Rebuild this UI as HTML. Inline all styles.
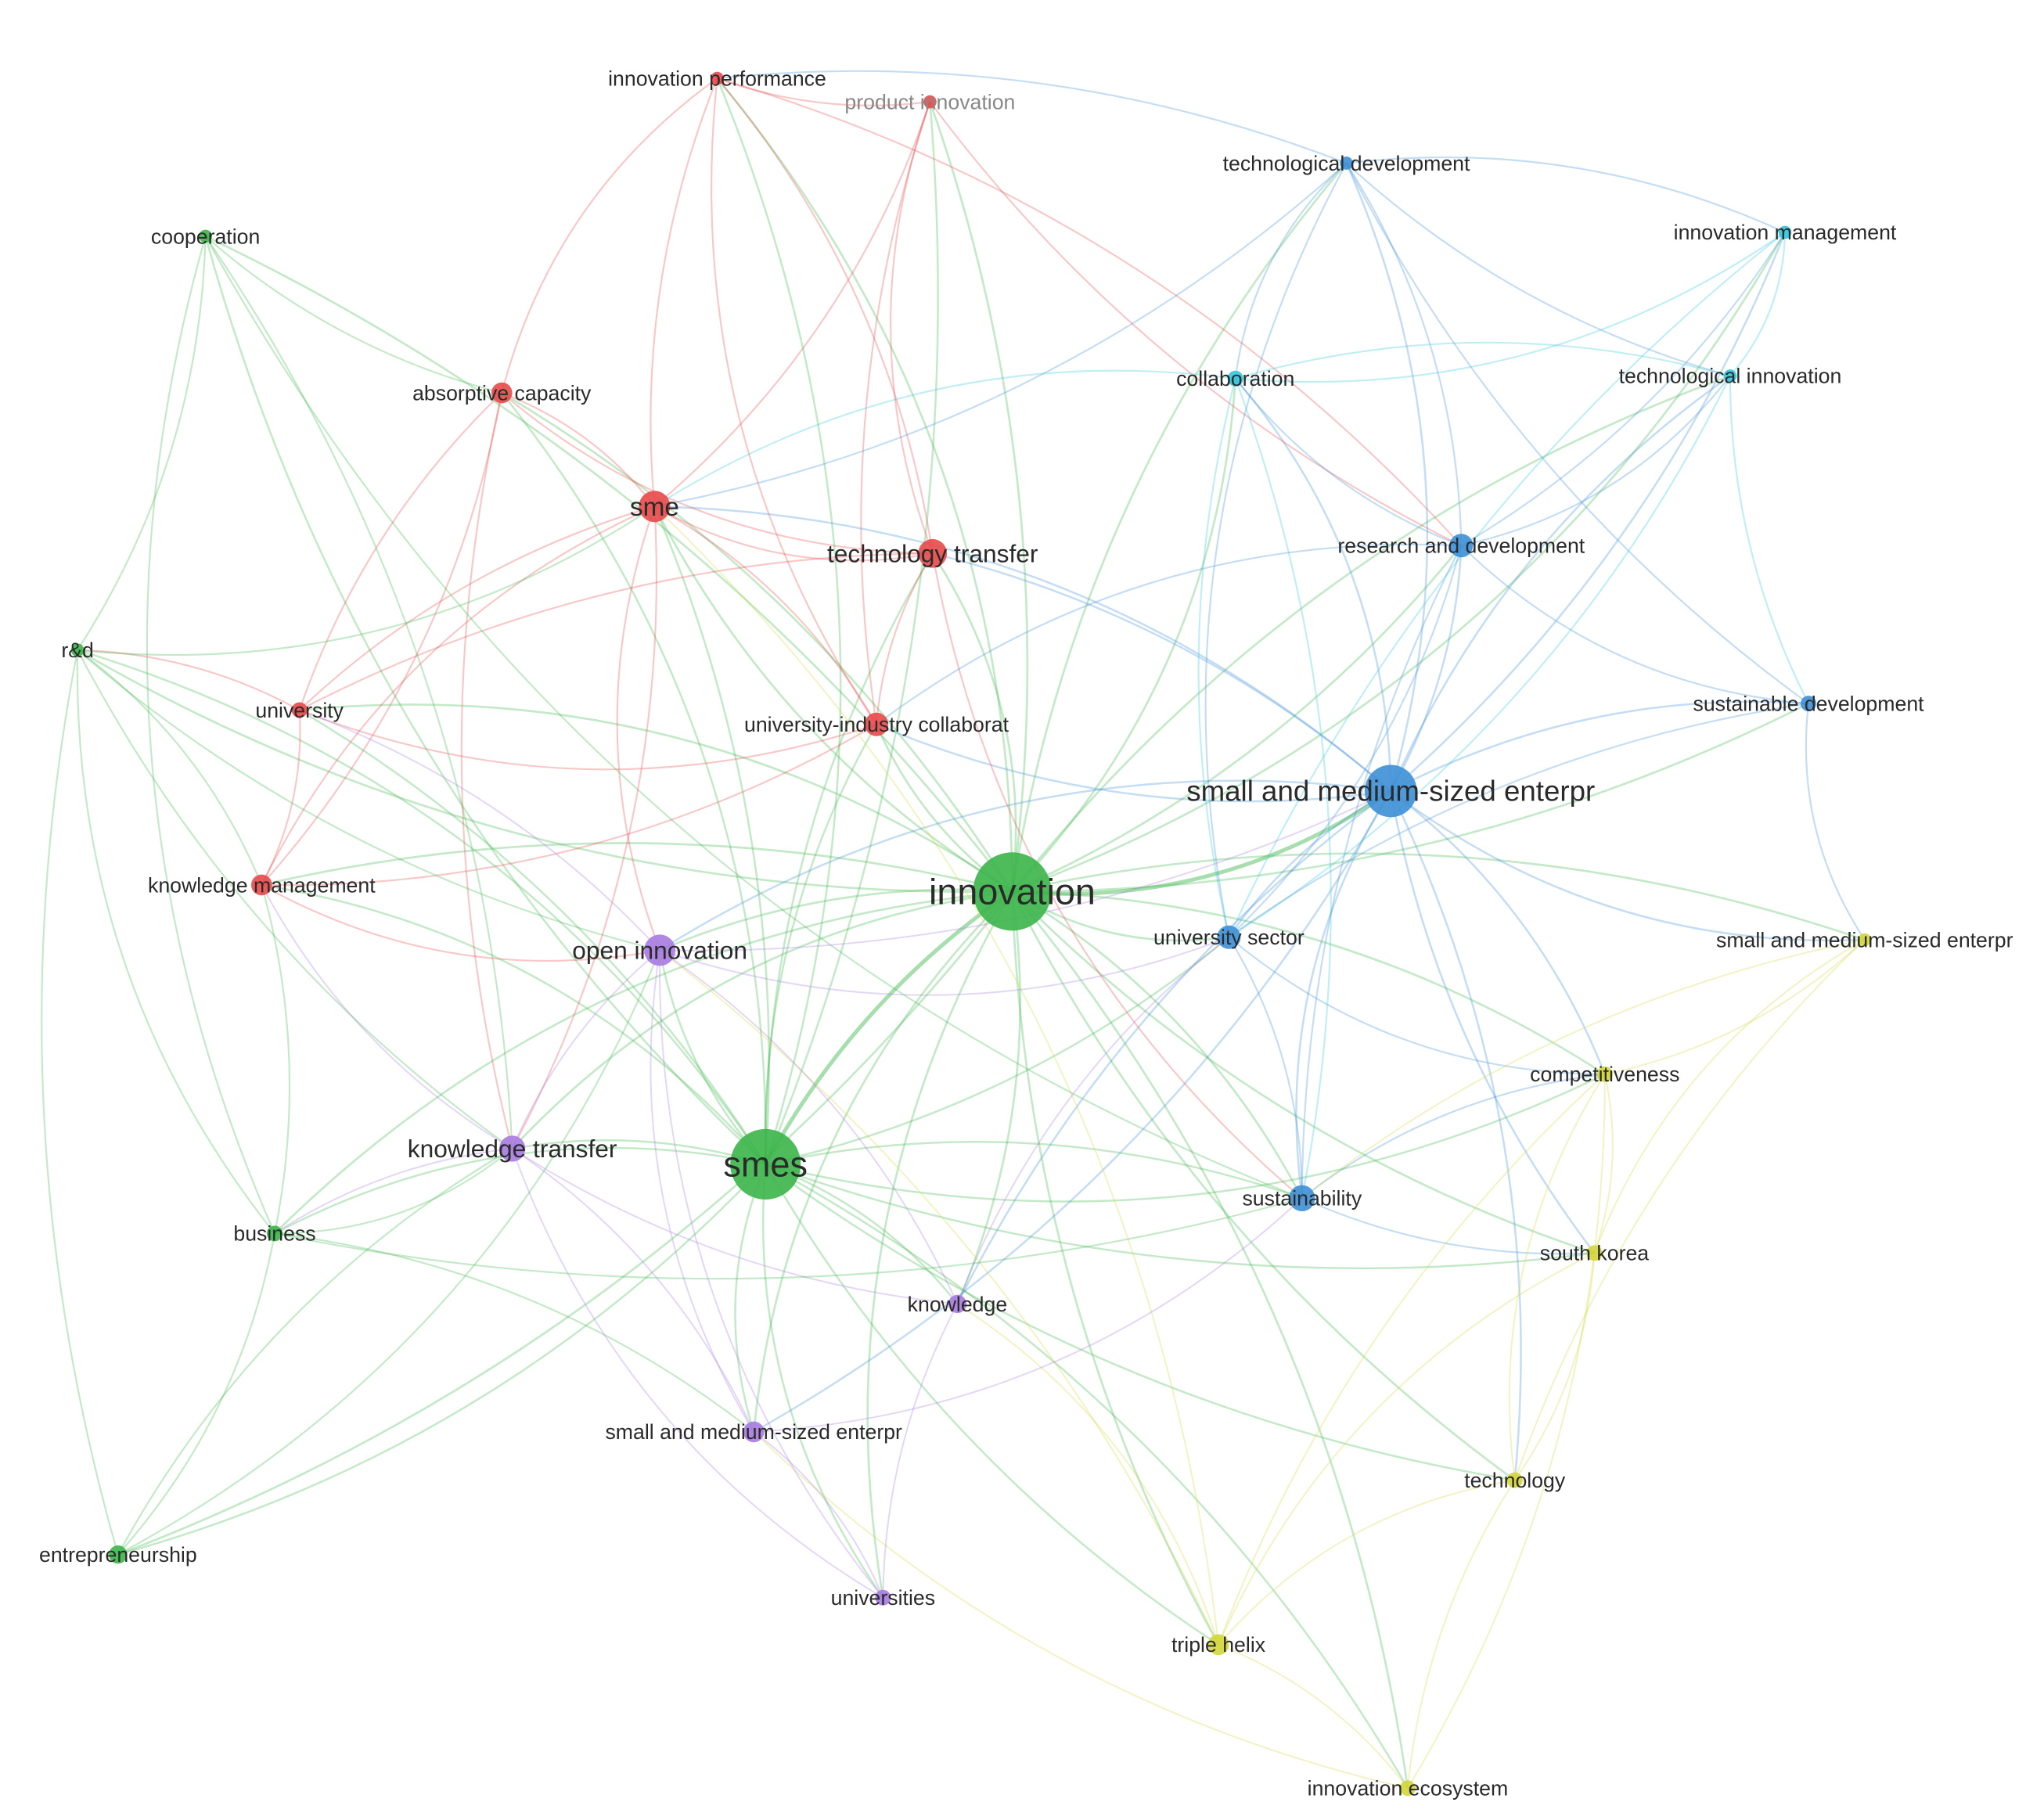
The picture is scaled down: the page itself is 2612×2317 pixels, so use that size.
<!DOCTYPE html>
<html><head><meta charset="utf-8">
<style>
html,body{margin:0;padding:0;background:#fff;}
svg{display:block;}
text{font-family:"Liberation Sans",sans-serif;fill:#2a2a2a;}
</style></head>
<body>
<svg id="s" width="2612" height="2317" viewBox="0 0 1565 1389" xmlns="http://www.w3.org/2000/svg">
<g id="edges" fill="none"></g>
<g id="nodes"></g>
<g id="labels" text-anchor="middle"></g>
</svg>
<script>
var C={r:"#e8494a",g:"#3cb54a",b:"#3d8fd6",c:"#2fc6de",y:"#d3d63a",p:"#a77be0"};
var N=[
["innovation performance",549,60,5,"r",16],//0
["product innovation",712,78,5,"r",16],//1
["technological development",1031,125,5,"b",16],//2
["innovation management",1367,178,5,"c",16],//3
["cooperation",157,181,5,"g",16],//4
["technological innovation",1325,288,5,"c",16],//5
["collaboration",946,290,6,"c",16],//6
["absorptive capacity",384,301,8,"r",16],//7
["sme",501,388,12,"r",20],//8
["technology transfer",714,424,11,"r",19],//9
["research and development",1119,418,9,"b",16],//10
["r&d",59,498,5,"g",16],//11
["university",229,544,6,"r",16],//12
["sustainable development",1385,539,6,"b",16],//13
["university-industry collaborat",671,555,9,"r",16],//14
["small and medium-sized enterpr",1065,606,20,"b",22],//15
["innovation",775,683,30,"g",28],//16
["knowledge management",200,678,8,"r",16],//17
["small and medium-sized enterpr",1428,720,5,"y",16],//18
["university sector",941,718,9,"b",16],//19
["open innovation",505,728,12,"p",19],//20
["competitiveness",1229,823,6,"y",16],//21
["knowledge transfer",392,880,10,"p",19],//22
["smes",586,892,27,"g",27],//23
["sustainability",997,918,10,"b",16],//24
["business",210,945,6,"g",16],//25
["south korea",1221,960,6,"y",16],//26
["knowledge",733,999,7,"p",16],//27
["small and medium-sized enterpr",577,1097,8,"p",16],//28
["technology",1160,1134,6,"y",16],//29
["entrepreneurship",90,1191,7,"g",16],//30
["universities",676,1224,6,"p",16],//31
["triple helix",933,1260,8,"y",16],//32
["innovation ecosystem",1078,1370,6,"y",16]//33
];
var E=[];
function add(a,b,w){E.push([a,b,w||1.2]);}
// hubs
for(var i=0;i<N.length;i++){if(i!=16)add(16,i,i==23||i==15?3:1.6);}
[0,1,4,7,8,9,11,12,14,17,19,20,21,22,24,25,26,27,28,29,30,31,32,33].forEach(function(i){add(23,i,1.5)});
[2,3,5,6,10,13,18,19,21,24,26,29,8,9,14,20,27,28].forEach(function(i){add(15,i,1.5)});
// red cluster
[[0,7],[0,8],[0,9],[0,14],[0,1],[1,8],[1,9],[1,14],[7,8],[7,9],[7,12],[7,17],[8,9],[8,12],[8,14],[8,17],[9,14],[12,17],[12,14],[9,12],[8,22],[8,20],[7,22],[14,17],[9,24],[1,10],[0,10],[17,20],[12,11]].forEach(function(e){add(e[0],e[1],1.3)});
// blue / cyan
[[2,10],[2,6],[2,5],[2,3],[2,19],[2,13],[10,6],[10,5],[10,3],[10,19],[10,13],[10,24],[6,5],[6,3],[6,19],[6,24],[5,3],[5,13],[5,19],[13,18],[13,19],[19,24],[19,21],[24,26],[24,21],[10,14],[2,0],[2,8],[6,8],[3,19]].forEach(function(e){add(e[0],e[1],1.3)});
// yellow
[[18,21],[18,26],[18,29],[21,26],[21,29],[21,32],[26,29],[26,32],[29,33],[32,33],[29,32],[18,24],[21,33],[32,27],[32,20],[33,28],[32,8]].forEach(function(e){add(e[0],e[1],1.2)});
// purple
[[20,22],[20,27],[20,28],[22,27],[22,28],[22,31],[27,31],[28,31],[20,31],[22,25],[27,19],[28,24],[20,12],[22,17],[20,19],[20,15]].forEach(function(e){add(e[0],e[1],1.2)});
// green
[[4,11],[4,25],[4,7],[4,22],[11,25],[11,30],[11,17],[11,8],[11,22],[25,30],[25,22],[25,17],[30,22],[30,20],[25,24],[25,28],[4,24],[11,20]].forEach(function(e){add(e[0],e[1],1.3)});
var eg=document.getElementById("edges"),ng=document.getElementById("nodes"),lg=document.getElementById("labels");
var ns="http://www.w3.org/2000/svg";
E.forEach(function(e,k){
 var a=N[e[0]],b=N[e[1]];
 var dx=b[1]-a[1],dy=b[2]-a[2];
 var f=(k%3==0?0.18:(k%3==1?0.12:-0.14));
 var cx=(a[1]+b[1])/2-dy*f,cy=(a[2]+b[2])/2+dx*f;
 var p=document.createElementNS(ns,"path");
 p.setAttribute("d","M"+a[1]+","+a[2]+" Q"+cx+","+cy+" "+b[1]+","+b[2]);
 p.setAttribute("stroke",C[a[4]]);
 p.setAttribute("stroke-opacity",e[2]>2?0.45:0.3);
 p.setAttribute("stroke-width",e[2]);
 eg.appendChild(p);
});
N.forEach(function(n){
 var c=document.createElementNS(ns,"circle");
 c.setAttribute("cx",n[1]);c.setAttribute("cy",n[2]);c.setAttribute("r",n[3]);
 c.setAttribute("fill",C[n[4]]);c.setAttribute("fill-opacity",0.9);
 ng.appendChild(c);
 var t=document.createElementNS(ns,"text");
 t.setAttribute("x",n[1]);t.setAttribute("y",n[2]+n[5]*0.35);
 t.setAttribute("font-size",n[5]);
 if(n[0]=="product innovation")t.setAttribute("style","fill:#888");
 t.textContent=n[0];
 lg.appendChild(t);
});
</script>
</body></html>
